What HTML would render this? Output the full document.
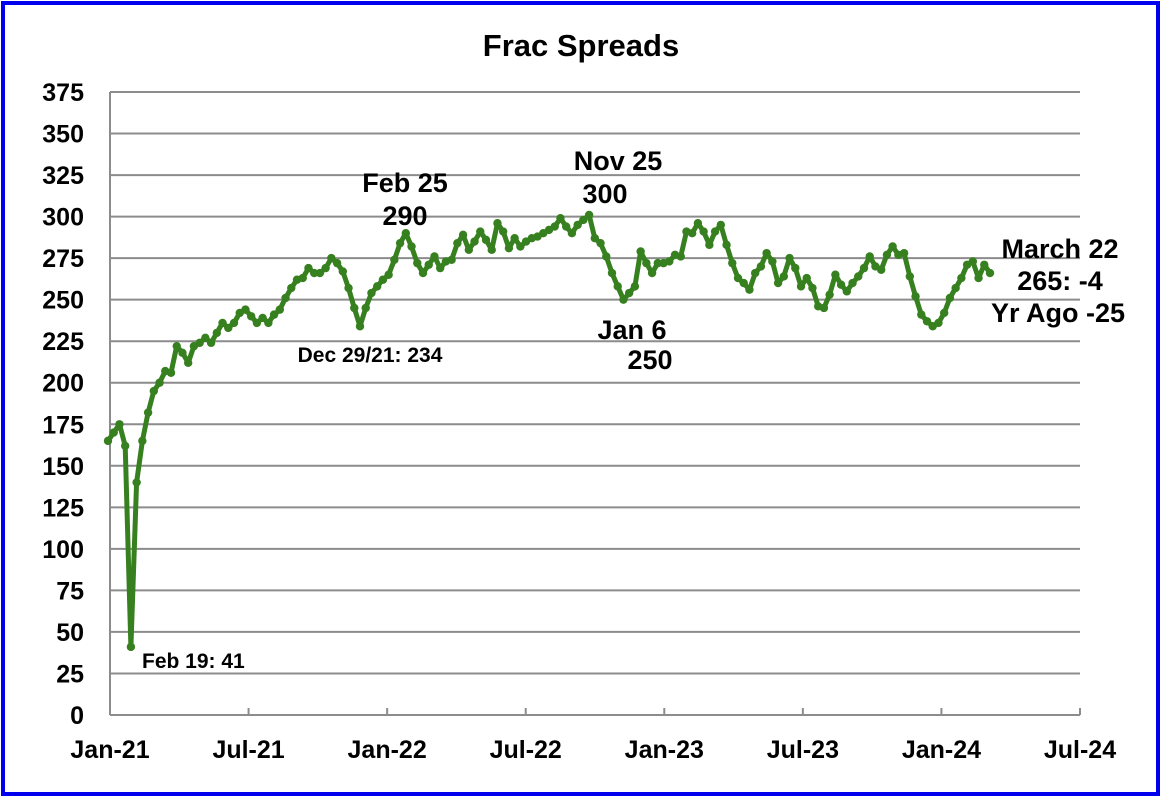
<!DOCTYPE html>
<html><head><meta charset="utf-8"><style>
body{margin:0;background:#fff;}
svg text{font-family:"Liberation Sans",Arial,sans-serif;font-weight:bold;fill:#000;}
</style></head><body>
<svg width="1162" height="798" viewBox="0 0 1162 798">
<rect x="3" y="3" width="1155" height="791" fill="#fff" stroke="#0000ee" stroke-width="4"/>
<text x="581" y="56" font-size="31" text-anchor="middle">Frac Spreads</text>
<g id="grid"></g><g id="axes"></g><g id="series"></g>
<text x="405" y="192" font-size="27" text-anchor="middle">Feb 25</text>
<text x="405" y="225" font-size="27" text-anchor="middle">290</text>
<text x="618" y="170" font-size="27" text-anchor="middle">Nov 25</text>
<text x="605" y="203" font-size="27" text-anchor="middle">300</text>
<text x="632" y="339" font-size="27" text-anchor="middle">Jan 6</text>
<text x="650" y="369" font-size="27" text-anchor="middle">250</text>
<text x="370" y="362" font-size="21" text-anchor="middle">Dec 29/21: 234</text>
<text x="142" y="668" font-size="21">Feb 19: 41</text>
<text x="1060" y="258" font-size="27" text-anchor="middle">March 22</text>
<text x="1060" y="290" font-size="27" text-anchor="middle">265: -4</text>
<text x="1058" y="322" font-size="27" text-anchor="middle">Yr Ago -25</text>
</svg>
<script>
const values=[165,170,175,162,41,140,165,182,195,200,207,206,222,218,212,222,224,227,224,230,236,233,236,242,244,240,236,239,236,241,244,251,257,262,263,269,266,266,269,275,272,267,257,245,234,245,254,258,262,265,274,284,290,282,272,266,271,276,269,273,274,284,289,280,285,291,286,280,296,291,281,287,282,285,287,288,290,292,294,299,294,290,295,298,301,287,284,276,266,258,250,254,258,279,272,266,272,272,273,277,276,291,290,296,291,283,291,295,283,272,263,260,256,266,270,278,273,260,264,275,269,258,263,257,246,245,253,265,259,255,260,264,269,276,270,268,277,282,277,278,264,252,241,237,234,236,242,251,257,263,271,273,263,271,266];
const yTicks=[0,25,50,75,100,125,150,175,200,225,250,275,300,325,350,375];
const xTickLabels=["Jan-21","Jul-21","Jan-22","Jul-22","Jan-23","Jul-23","Jan-24","Jul-24"];
const NS="http://www.w3.org/2000/svg";
const X0=110,X1=1080,Y0=715,Y1=92;
const y=v=>Y0-(v/375)*(Y0-Y1);
const xt=i=>X0+i*(X1-X0)/(xTickLabels.length-1);
const xs=i=>108+i*(990-108)/(values.length-1);
function mk(t,a,p){const e=document.createElementNS(NS,t);for(const k in a)e.setAttribute(k,a[k]);p.appendChild(e);return e;}
const grid=document.getElementById('grid'),axes=document.getElementById('axes'),ser=document.getElementById('series');
yTicks.forEach(v=>{
 const l=mk('line',{x1:X0,x2:X1,y1:y(v),y2:y(v),stroke:'#8c8c8c','stroke-width':2},grid);
 
 
 const t=mk('text',{x:84,y:y(v)+9,'font-size':25,'text-anchor':'end'},axes);t.textContent=v;
 
 
});
mk('line',{x1:X0,x2:X0,y1:Y1,y2:Y0,stroke:'#8c8c8c','stroke-width':2},axes);
xTickLabels.forEach((s,i)=>{
 mk('line',{x1:xt(i),x2:xt(i),y1:Y0,y2:Y0-7,stroke:'#8c8c8c','stroke-width':2},axes);
 const t=mk('text',{x:xt(i),y:758,'font-size':25,'text-anchor':'middle'},axes);t.textContent=s;
 
 
});
const pts=values.map((v,i)=>xs(i).toFixed(1)+','+y(v).toFixed(1)).join(' ');
const pl=mk('polyline',{points:pts,fill:'none',stroke:'#37801f','stroke-width':5,'stroke-linejoin':'round'},ser);


values.forEach((v,i)=>{
 const c=mk('circle',{cx:xs(i),cy:y(v),r:4.2,fill:'#37801f'},ser);
 
 
});
</script>
</body></html>
